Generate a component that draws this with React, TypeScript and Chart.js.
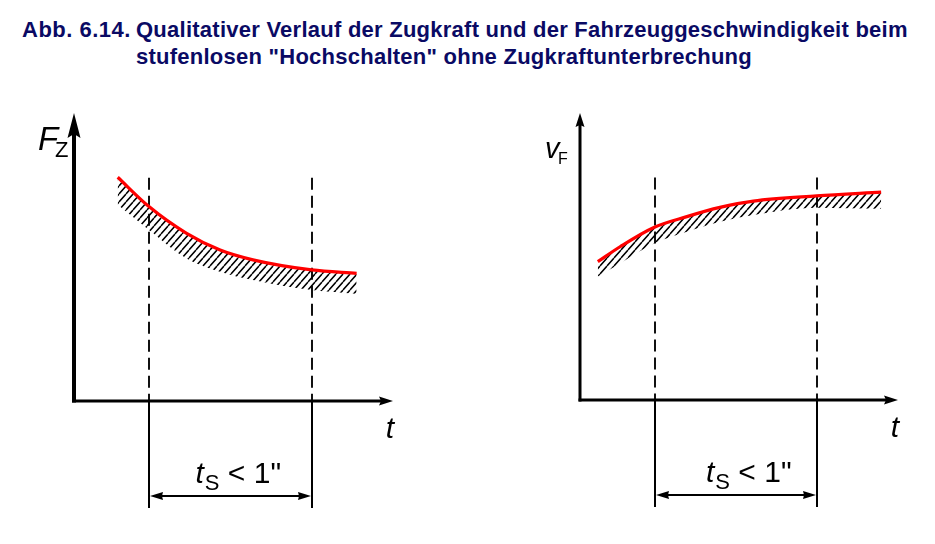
import React, { useEffect, useRef } from "react";
import { Chart, registerables } from "chart.js";

Chart.register(...registerables);

// ---- data (arbitrary qualitative units, 0..10 on both axes) ----
const forceTime = [1.37, 2.35, 3.53, 4.58, 5.61, 7.45, 8.86];
const forceUpper = [7.77, 6.75, 5.82, 5.24, 4.9, 4.55, 4.43];
const forceLower = [6.81, 5.94, 4.95, 4.49, 4.2, 3.85, 3.72];

const speedTime = [0.56, 1.26, 2.34, 3.36, 4.4, 5.45, 7.44, 9.47];
const speedUpper = [4.82, 5.34, 6.02, 6.39, 6.71, 6.93, 7.11, 7.24];
const speedLower = [4.3, 4.76, 5.46, 5.86, 6.21, 6.45, 6.7, 6.66];

const shiftMarks = [2.35, 7.45];
const markTop = 7.75;
const axisMax = 10;

const titleNumber = "Abb. 6.14.";
const titleLines = [
  "Qualitativer Verlauf der Zugkraft und der Fahrzeuggeschwindigkeit beim",
  'stufenlosen "Hochschalten" ohne Zugkraftunterbrechung',
];

const FONT = '"Liberation Sans", Arial, Helvetica, sans-serif';

function arrowHead(ctx: CanvasRenderingContext2D, tx: number, ty: number, dx: number, dy: number, len: number, half: number, notch = 0) {
  const bx = tx - dx * len;
  const by = ty - dy * len;
  const nx = -dy;
  const ny = dx;
  ctx.beginPath();
  ctx.moveTo(tx, ty);
  ctx.lineTo(bx + nx * half, by + ny * half);
  ctx.lineTo(tx - dx * (len - notch), ty - dy * (len - notch));
  ctx.lineTo(bx - nx * half, by - ny * half);
  ctx.closePath();
  ctx.fill();
}

const diagramPlugin = {
  id: "diagram",
  beforeDatasetsDraw(chart: any, _args: any, opts: any) {
    const { ctx, chartArea, scales } = chart;
    const { bottom } = chartArea;
    const x = scales.x;
    const y = scales.y;
    ctx.save();
    ctx.strokeStyle = "#111";
    ctx.lineWidth = 2;
    ctx.setLineDash([12, 6]);
    for (const m of opts.marks) {
      const px = Math.round(x.getPixelForValue(m));
      ctx.beginPath();
      ctx.moveTo(px, y.getPixelForValue(opts.markTop));
      ctx.lineTo(px, bottom);
      ctx.stroke();
    }
    ctx.restore();
  },
  afterDraw(chart: any, _args: any, opts: any) {
    const { ctx, chartArea, scales } = chart;
    const { left, right, top, bottom } = chartArea;
    const x = scales.x;
    ctx.save();
    ctx.fillStyle = "#000";
    ctx.strokeStyle = "#000";

    // solid extension lines below the t axis + dimension arrow
    const m1 = Math.round(x.getPixelForValue(opts.marks[0]));
    const m2 = Math.round(x.getPixelForValue(opts.marks[1]));
    ctx.lineWidth = 2;
    ctx.beginPath();
    ctx.moveTo(m1, bottom);
    ctx.lineTo(m1, bottom + 107);
    ctx.moveTo(m2, bottom);
    ctx.lineTo(m2, bottom + 107);
    ctx.stroke();
    const ay = bottom + 95;
    ctx.lineWidth = 1.8;
    ctx.beginPath();
    ctx.moveTo(m1 + 8, ay);
    ctx.lineTo(m2 - 8, ay);
    ctx.stroke();
    arrowHead(ctx, m1 + 1, ay, -1, 0, 13, 4, 1);
    arrowHead(ctx, m2 - 1, ay, 1, 0, 13, 4, 1);

    // axes
    const yw = opts.yAxisWidth;
    const xw = opts.xAxisWidth;
    ctx.lineWidth = yw;
    ctx.beginPath();
    ctx.moveTo(left, bottom + xw / 2);
    ctx.lineTo(left, top + opts.yArrow.len - 4);
    ctx.stroke();
    arrowHead(ctx, left, top, 0, -1, opts.yArrow.len, opts.yArrow.half, opts.yArrow.notch);
    ctx.lineWidth = xw;
    ctx.beginPath();
    ctx.moveTo(left - yw / 2, bottom);
    ctx.lineTo(right - 10, bottom);
    ctx.stroke();
    arrowHead(ctx, right, bottom, 1, 0, 14, 4.5, 2);

    // axis labels
    ctx.textBaseline = "alphabetic";
    ctx.textAlign = "left";
    const yl = opts.yLabel;
    ctx.font = `italic ${yl.mainSize}px ${FONT}`;
    ctx.fillText(yl.main, left + yl.mainDx, top + yl.mainDy);
    ctx.font = `${yl.subSize}px ${FONT}`;
    ctx.fillText(yl.sub, left + yl.subDx, top + yl.subDy);

    ctx.font = `italic 30px ${FONT}`;
    ctx.textAlign = "right";
    ctx.fillText("t", right + 1, bottom + 37);

    // shift time label
    ctx.textAlign = "left";
    const mid = (m1 + m2) / 2;
    let tx = mid + opts.labelOffset;
    const base = bottom + 82;
    ctx.font = `italic 30px ${FONT}`;
    ctx.fillText("t", tx, base);
    tx += ctx.measureText("t").width + 1;
    ctx.font = `22px ${FONT}`;
    ctx.fillText("S", tx, base + 7);
    tx += ctx.measureText("S").width;
    ctx.font = `30px ${FONT}`;
    ctx.fillText(' < 1"', tx, base);
    ctx.restore();
  },
};

function makeHatch(ctx: CanvasRenderingContext2D) {
  const w = 7;
  const h = 8;
  const c = document.createElement("canvas");
  c.width = w;
  c.height = h;
  const p = c.getContext("2d")!;
  p.strokeStyle = "#000";
  p.lineWidth = 1.5;
  p.beginPath();
  for (let n = -1; n <= 1; n++) {
    p.moveTo(n * w, h);
    p.lineTo((n + 1) * w, 0);
  }
  p.stroke();
  return ctx.createPattern(c, "repeat");
}

type PanelProps = {
  left: number;
  width: number;
  padding: { left: number; right: number; top: number; bottom: number };
  time: number[];
  upper: number[];
  lower: number[];
  plugOpts: any;
};

function Panel({ left, width, padding, time, upper, lower, plugOpts }: PanelProps) {
  const ref = useRef<HTMLCanvasElement>(null);
  useEffect(() => {
    const canvas = ref.current!;
    const ctx = canvas.getContext("2d")!;
    const hatch = makeHatch(ctx);
    const chart = new Chart(canvas, {
      type: "line",
      data: {
        datasets: [
          {
            data: time.map((t, i) => ({ x: t, y: upper[i] })),
            borderColor: "#ff0000",
            borderWidth: 3.2,
            pointRadius: 0,
            fill: false,
            cubicInterpolationMode: "monotone",
          },
          {
            data: time.map((t, i) => ({ x: t, y: lower[i] })),
            borderColor: "rgba(0,0,0,0)",
            borderWidth: 0,
            pointRadius: 0,
            backgroundColor: hatch as any,
            fill: "-1",
            cubicInterpolationMode: "monotone",
          },
        ],
      },
      options: {
        animation: false,
        responsive: false,
        maintainAspectRatio: false,
        layout: { padding },
        scales: {
          x: { type: "linear", min: 0, max: axisMax, display: false },
          y: { type: "linear", min: 0, max: axisMax, display: false },
        },
        plugins: {
          legend: { display: false },
          tooltip: { enabled: false },
          diagram: plugOpts,
        } as any,
      },
      plugins: [diagramPlugin as any],
    });
    return () => chart.destroy();
  }, []);
  return (
    <canvas
      ref={ref}
      width={width}
      height={440}
      style={{ position: "absolute", left, top: 90, width, height: 440 }}
    />
  );
}

export default function App() {
  const titleStyle: React.CSSProperties = {
    position: "absolute",
    fontFamily: FONT,
    fontWeight: "bold",
    fontSize: 22,
    letterSpacing: "0.25px",
    lineHeight: "27px",
    color: "#0a0a64",
    whiteSpace: "nowrap",
    top: 16,
  };
  return (
    <div style={{ position: "absolute", left: 0, top: 0, width: 935, height: 544, background: "#fff", overflow: "hidden" }}>
      <div style={{ ...titleStyle, left: 22, letterSpacing: "0.5px" }}>{titleNumber}</div>
      <div style={{ ...titleStyle, left: 136 }}>
        {titleLines.map((l, i) => (
          <div key={i}>{l}</div>
        ))}
      </div>
      <Panel
        left={0}
        width={467}
        padding={{ left: 74, right: 74, top: 23, bottom: 129 }}
        time={forceTime}
        upper={forceUpper}
        lower={forceLower}
        plugOpts={{
          marks: shiftMarks,
          markTop,
          yAxisWidth: 4,
          xAxisWidth: 3,
          yArrow: { len: 25, half: 6.5, notch: 4 },
          yLabel: { main: "F", sub: "Z", mainSize: 33, subSize: 22, mainDx: -36, mainDy: 37, subDx: -19, subDy: 44 },
          labelOffset: -35,
        }}
      />
      <Panel
        left={467}
        width={468}
        padding={{ left: 113, right: 37, top: 23, bottom: 130 }}
        time={speedTime}
        upper={speedUpper}
        lower={speedLower}
        plugOpts={{
          marks: shiftMarks,
          markTop,
          yAxisWidth: 3,
          xAxisWidth: 3,
          yArrow: { len: 14, half: 4.5, notch: 2 },
          yLabel: { main: "v", sub: "F", mainSize: 29, subSize: 16, mainDx: -35, mainDy: 45, subDx: -22, subDy: 51 },
          labelOffset: -30,
        }}
      />
    </div>
  );
}
